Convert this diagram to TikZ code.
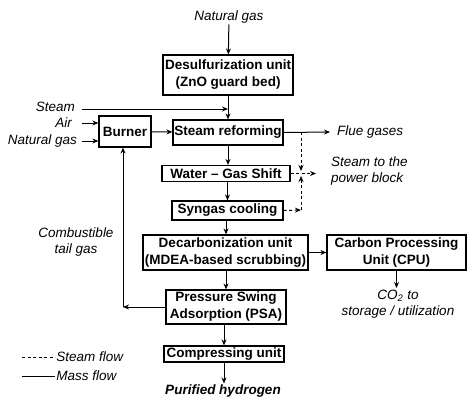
\documentclass[tikz,border=0pt]{standalone}
\usepackage{fontspec}
\setmainfont{Liberation Sans}
\usetikzlibrary{arrows.meta}

\begin{document}
\begin{tikzpicture}[x=1pt, y=-1pt,
    unit/.style={draw, line width=1.2pt, inner sep=0pt, align=center,
                 font=\fontsize{13.5}{17}\selectfont\bfseries},
    lbl/.style={font=\fontsize{13.5}{15.5}\selectfont\itshape, inner sep=1pt},
    flow/.style={line width=1pt, -{Stealth[length=6pt,width=5pt]}},
    steamflow/.style={flow, dash pattern=on 3pt off 2.5pt}]
            \useasboundingbox (0,0) rectangle (474,407);

            % Process units
            \node[unit, minimum width=130, minimum height=40] (desulf) at (228,75) {Desulfurization unit\\(ZnO guard bed)};
            \node[unit, minimum width=110, minimum height=25] (reform) at (228,132.5) {Steam reforming};
            \node[unit, minimum width=52, minimum height=31] (burner) at (125,131.5) {Burner};
            \node[unit, minimum width=128, minimum height=16] (shift) at (226,173.5) {Water -- Gas Shift};
            \node[unit, minimum width=111, minimum height=19] (cooling) at (227.5,210.5) {Syngas cooling};
            \node[unit, minimum width=165, minimum height=35] (decarb) at (225.5,252.5) {Decarbonization unit\\(MDEA-based scrubbing)};
            \node[unit, minimum width=139, minimum height=35] (cpu) at (396.5,252.5) {Carbon Processing\\Unit (CPU)};
            \node[unit, minimum width=120, minimum height=34] (psa) at (226,307) {Pressure Swing\\Adsorption (PSA)};
            \node[unit, minimum width=120, minimum height=16] (compress) at (224,354) {Compressing unit};

            % Inlets and outlets
            \node[lbl] (ngtop) at (229,17) {Natural gas};
            \node[lbl, anchor=east] (steamin) at (76,107) {Steam};
            \node[lbl, anchor=east] (airin) at (73,123) {Air};
            \node[lbl, anchor=east] (ngin) at (78,141) {Natural gas};
            \node[lbl, anchor=west] (flue) at (336,132) {Flue gases};
            \node[lbl, anchor=west, align=left] (power) at (330,171) {Steam to the\\power block};
            \node[lbl, align=center] (tailgas) at (76,242) {Combustible\\tail gas};
            \node[lbl, align=center] (co2) at (398,304) {CO\textsubscript{2} to\\storage / utilization};
            \node[lbl, font=\fontsize{13.5}{15.5}\selectfont\bfseries\itshape] (h2) at (223,391) {Purified hydrogen};

            \coordinate (steamend) at (82,109);
            \coordinate (airend) at (82,123);
            \coordinate (ngend) at (82,141);
            \coordinate (tail) at (123,307);
            \coordinate (steamtop) at (301,132);
            \coordinate (steambot) at (301,210);

            % Mass flow
            \draw[flow] (ngtop) -- (desulf);
            \draw[flow] (steamend) -- (desulf.south |- steamend);
            \draw[flow] (desulf) -- (reform);
            \draw[flow] (airend) -- (burner.west |- airend);
            \draw[flow] (ngend) -- (burner.west |- ngend);
            \draw[flow] (burner) -- (reform);
            \draw[flow] (reform.east) -- (330,132);
            \draw[flow] (reform.south) -- (reform.south |- shift.north);
            \draw[flow] (shift.south -| 227.5,0) -- (cooling.north -| 227.5,0);
            \draw[flow] (cooling.south -| 226,0) -- (decarb.north -| 226,0);
            \draw[flow] (decarb) -- (cpu);
            \draw[flow] (cpu.south) -- (cpu.south |- 0,288);
            \draw[flow] (decarb.south -| 226,0) -- (psa.north -| 226,0);
            \draw[flow] (psa.west) -- (tail);
            \draw[flow] (tail) -- (tail |- burner.south);
            \draw[flow] (psa.south -| 224,0) -- (compress.north -| 224,0);
            \draw[flow] (compress) -- (h2.north -| compress);

            % Steam flow
            \draw[steamflow] (steamtop) -- (301,171);
            \draw[steamflow] (cooling.east) -- (steambot);
            \draw[steamflow] (steambot) -- (301,176);
            \draw[steamflow] (shift.east) -- (316,173.5);

            % Legend
            \draw[line width=0.8pt, dash pattern=on 3pt off 2.5pt] (22,357) -- (55,357) node[lbl, anchor=west] (lgsteam) {Steam flow};
            \draw[line width=0.8pt] (22,376) -- (55,376) node[lbl, anchor=west] (lgmass) {Mass flow};
        \end{tikzpicture}
\end{document}
